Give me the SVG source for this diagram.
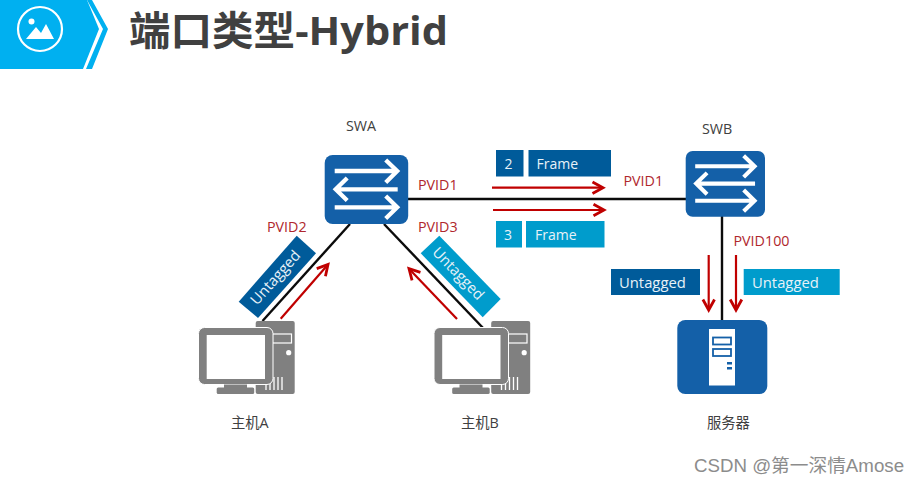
<svg xmlns="http://www.w3.org/2000/svg" xmlns:xlink="http://www.w3.org/1999/xlink" width="919" height="485" viewBox="0 0 919 485">
<style>
text{font-family:"Open Sans","Noto Sans CJK SC",sans-serif}
.lb{font-size:14.300px;fill:#404040}
.pv{font-size:14.300px;fill:#b0272d}
.wh{font-size:14px;fill:#e8f2f8}
.un{font-size:14.800px;fill:#e8f2f8}
.ln{stroke:#0b0b0b;stroke-width:2.400;fill:none}
.rd{stroke:#c00000;stroke-width:2.200;fill:none;marker-end:url(#ah)}
.dk{fill:#005b9a}
.lt{fill:#009ccc}
</style>
<defs>
<marker id="ah" markerUnits="userSpaceOnUse" markerWidth="16" markerHeight="18" refX="13" refY="8" orient="auto"><path d="M2.500 2.200L13 8L2.500 13.800" fill="none" stroke="#c00000" stroke-width="2.800"/></marker>
<g id="pc">
<rect x="255.700" y="321" width="39" height="73" rx="2" fill="#808080"/>
<rect x="272.500" y="334" width="19" height="9" fill="none" stroke="#fff" stroke-width="1.200"/>
<circle cx="288.700" cy="352.700" r="2.600" fill="#fff"/>
<path d="M266 390v-13M270 390v-13M274 390v-13M278 390v-13M282 390v-13" stroke="#fff" stroke-width="1.300"/>
<rect x="198.500" y="327.500" width="74.500" height="57" rx="6" fill="#808080" stroke="#fff" stroke-width="1"/>
<rect x="206.700" y="335" width="58.300" height="44" fill="#fff"/>
<rect x="224" y="384.500" width="23" height="3.500" fill="#808080"/>
<rect x="216.700" y="387.500" width="37.500" height="6.500" rx="1.500" fill="#808080"/>
</g>
<g id="sw" fill="none" stroke="#fff" stroke-width="4.300">
<path d="M10 16H71M61 5L72.500 16L61 27.500"/>
<path d="M73 34.300H12M22.500 23L11 34.300L22.500 45.500"/>
<path d="M10 52.300H71M61 41L72.500 52.300L61 63.500"/>
</g>
</defs>
<rect width="919" height="485" fill="#fff"/>
<g id="header">
<path d="M0 0H87L99 29L83 69H0Z" fill="#00b0f0"/>
<path d="M92 0L108 29L92 69H86L103 29L87 0Z" fill="#00b0f0"/>
<circle cx="40" cy="29" r="22" fill="none" stroke="#fff" stroke-width="2.200"/>
<circle cx="31.500" cy="21.500" r="3" fill="#fff"/>
<path d="M26 39L36 27L41 33L46 24L54 39Z" fill="#fff"/>
<text x="129" y="45" textLength="319" lengthAdjust="spacingAndGlyphs" style="font-size:40px;font-weight:700;fill:#404040">端口类型-Hybrid</text>
</g>
<g id="connectors">
<path class="ln" d="M350 224L262.500 321"/>
<path class="ln" d="M384 224L484 329"/>
<path class="ln" d="M408 199H686"/>
<path class="ln" d="M722 216V320"/>
<path class="rd" d="M280.700 318.700L328 264.500"/>
<path class="rd" d="M457 319L409 268.700"/>
<path class="rd" d="M492 187.700H603"/>
<path class="rd" d="M493 210H604"/>
<path class="rd" d="M708.700 255V310"/>
<path class="rd" d="M736 255V310"/>
</g>
<g id="SWA"><rect x="324.700" y="155" width="83.500" height="69" rx="8" fill="#1460a8"/><use xlink:href="#sw" href="#sw" transform="translate(324.700 155)"/><text class="lb" x="346" y="131">SWA</text></g>
<g id="SWB"><rect x="685.700" y="151" width="79.300" height="65.700" rx="7" fill="#1460a8"/><use xlink:href="#sw" href="#sw" transform="translate(685.700 151) scale(.95)"/><text class="lb" x="702" y="134">SWB</text></g>
<g id="server"><rect x="677.300" y="320" width="90" height="74" rx="8" fill="#1460a8"/>
<rect x="709" y="329" width="26" height="56.500" fill="#fff"/>
<rect x="713" y="337.500" width="18" height="7" fill="#fff" stroke="#1460a8" stroke-width="1.800"/>
<rect x="713" y="349" width="18" height="7" fill="#fff" stroke="#1460a8" stroke-width="1.800"/>
<rect x="727" y="362" width="5" height="2.500" fill="#1460a8"/><rect x="727" y="367" width="5" height="2.500" fill="#1460a8"/>
<text class="lb" x="707" y="428">服务器</text></g>
<g id="hostA"><use xlink:href="#pc" href="#pc"/><text class="lb" x="231" y="428">主机A</text></g>
<g id="hostB"><use xlink:href="#pc" href="#pc" transform="translate(235.500 0)"/><text class="lb" x="461" y="428">主机B</text></g>
<g id="labels">
<text class="pv" x="267" y="232">PVID2</text>
<text class="pv" x="418" y="190">PVID1</text>
<text class="pv" x="418" y="232">PVID3</text>
<text class="pv" x="623.500" y="186">PVID1</text>
<text class="pv" x="733.500" y="246">PVID100</text>
<path class="dk" d="M296.700 235.700L316 253.300L258 318L238.700 301.700Z"/>
<text class="un" transform="translate(257 306) rotate(-48.500)">Untagged</text>
<path class="lt" d="M439.300 235.700L420.700 253.300L482.700 317.300L500.700 299Z"/>
<text class="un" transform="translate(431.500 253) rotate(46)">Untagged</text>
<rect class="dk" x="496" y="150" width="27.500" height="26.500"/><text class="wh" x="504.500" y="169">2</text>
<rect class="dk" x="528.500" y="150" width="82.500" height="26.500"/><text class="wh" x="536.500" y="169">Frame</text>
<rect class="lt" x="496" y="221" width="26" height="26.500"/><text class="wh" x="504" y="240">3</text>
<rect class="lt" x="526" y="221" width="78.500" height="26.500"/><text class="wh" x="535" y="240">Frame</text>
<rect class="dk" x="611" y="269" width="89" height="26"/><text class="un" x="619" y="288">Untagged</text>
<rect class="lt" x="743.700" y="269" width="96" height="26"/><text class="un" x="752" y="288">Untagged</text>
</g>
<text x="694" y="472" style="font-family:'Liberation Sans','Noto Sans CJK SC',sans-serif;font-size:18.700px;fill:#8c8c8c">CSDN @第一深情Amose</text>
</svg>
